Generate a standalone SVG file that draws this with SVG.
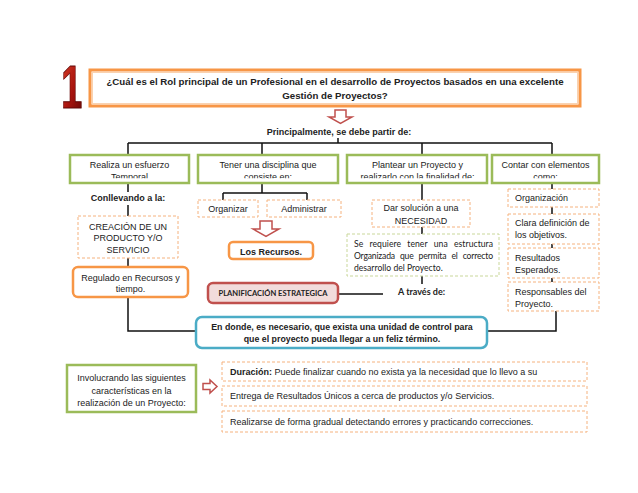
<svg xmlns="http://www.w3.org/2000/svg" width="638" height="493" viewBox="0 0 638 493">
<defs>
<linearGradient id="numg" x1="0" y1="0" x2="1" y2="1">
<stop offset="0" stop-color="#E0452C"/>
<stop offset="0.55" stop-color="#A8140E"/>
<stop offset="1" stop-color="#5E0707"/>
</linearGradient>
<clipPath id="c1"><rect x="70" y="150" width="120" height="28.3"/></clipPath>
<clipPath id="c2"><rect x="198" y="150" width="141" height="28.3"/></clipPath>
<clipPath id="c3"><rect x="347" y="150" width="141" height="28.3"/></clipPath>
<clipPath id="c4"><rect x="492" y="150" width="108" height="28.3"/></clipPath>
</defs>
<style>
.t{font-family:"Liberation Sans",Arial,sans-serif;font-size:9px;fill:#222}
.b{font-weight:bold}
.m{text-anchor:middle}
.tt{font-size:9.7px}
.ct{font-size:8.8px}
.cal{font-family:Lato,"Open Sans",sans-serif;font-size:8.6px;fill:#222}
.pl{font-size:8px;font-weight:bold}
.at{font-size:9px;font-weight:bold}
.g{fill:#fff;stroke:#9BBB59;stroke-width:2.5}
.d{fill:#fff;stroke:#F5B27E;stroke-width:1;stroke-dasharray:3 2}
.dg{fill:#fff;stroke:#C9D79A;stroke-width:1;stroke-dasharray:3 2}
.o{fill:#fff;stroke:#F79646;stroke-width:2.5}
.ln{fill:none;stroke:#111;stroke-width:1.5}
.ar{fill:#fff;stroke:#C0504D;stroke-width:1.5;stroke-linejoin:miter}
</style>
<rect width="638" height="493" fill="#fff"/>

<g id="number">
<text transform="translate(61,108) scale(0.62,1)" x="0" y="0" font-family="Liberation Sans,Arial,sans-serif" font-weight="bold" font-size="62" fill="url(#numg)" stroke="#5E0707" stroke-width="0.8">1</text>
</g>

<g id="title">
<rect x="90" y="70" width="490" height="36" fill="#fff" stroke="#F79646" stroke-width="3"/>
<rect x="92.5" y="72.5" width="485" height="31" fill="none" stroke="#FAD2B0" stroke-width="1"/>
<text class="t b m tt" x="335" y="85">¿Cuál es el Rol principal de un Profesional en el desarrollo de Proyectos basados en una excelente</text>
<text class="t b m tt" x="335" y="99">Gestión de Proyectos?</text>
</g>

<g id="connectors">
<path class="ar" d="M335 110 H346 V117 H352 L340.5 123.5 L329 117 H335 Z"/>
<path class="ln" d="M338 138 V143 M128 143 H552 M128 143 V155 M262 143 V155 M422 143 V155 M552 143 V155"/>
<path class="ln" d="M128 183 V192 M128 205 V216 M128 258 V267 M128 297 V331 H196"/>
<path class="ln" d="M262 183 V193 M223 193 H307 M223 193 V200 M307 193 V200"/>
<path class="ar" d="M260 221 H272 V229 H279 L266 236.5 L253 229 H260 Z"/>
<path class="ln" d="M422 183 V200 M422 227 V234 M422 276 V284"/>
<path class="ln" d="M552 183 V189 M552 207 V214 M552 244 V248 M552 278 V282 M556 311 V331 H487"/>
<path class="ln" d="M338 294 H383"/>
<path class="ar" d="M203 383.5 H210 V380 L217 386.5 L210 393 V389.5 H203 Z"/>
</g>

<g id="principal">
<text class="t b m" x="339" y="135">Principalmente, se debe partir de:</text>
</g>

<g id="n-esfuerzo">
<rect class="g" x="70" y="155" width="119" height="28"/>
<g clip-path="url(#c1)">
<text class="t m" x="129.5" y="167.5">Realiza un esfuerzo</text>
<text class="t m" x="129.5" y="179.5">Temporal</text>
</g>
</g>

<g id="n-disciplina">
<rect class="g" x="198" y="155" width="140" height="28"/>
<g clip-path="url(#c2)">
<text class="t m" x="268" y="167.5">Tener una disciplina que</text>
<text class="t m" x="268" y="179.5">consiste en:</text>
</g>
</g>

<g id="n-plantear">
<rect class="g" x="347" y="155" width="140" height="28"/>
<g clip-path="url(#c3)">
<text class="t m" x="417.5" y="167.5">Plantear un Proyecto y</text>
<text class="t m" x="417.5" y="179.5">realizarlo con la finalidad de:</text>
</g>
</g>

<g id="n-contar">
<rect class="g" x="492" y="155" width="107" height="28"/>
<g clip-path="url(#c4)">
<text class="t m" x="545.5" y="167.5">Contar con elementos</text>
<text class="t m" x="545.5" y="179.5">como:</text>
</g>
</g>

<g id="n-conllevando">
<text class="t b m" x="128" y="200.5">Conllevando a la:</text>
</g>

<g id="n-creacion">
<rect class="d" x="78" y="216" width="100" height="42"/>
<text class="t m" x="128" y="229.5">CREACIÓN DE UN</text>
<text class="t m" x="128" y="241">PRODUCTO Y/O</text>
<text class="t m" x="128" y="252.5">SERVICIO</text>
</g>

<g id="n-regulado">
<rect class="o" x="73" y="267" width="115" height="30" rx="5"/>
<text class="t m" x="130.5" y="280.5">Regulado en Recursos y</text>
<text class="t m" x="130.5" y="291.5">tiempo.</text>
</g>

<g id="n-organizar">
<rect class="d" x="198" y="200" width="60" height="17"/>
<text class="t m" x="228" y="211.5">Organizar</text>
</g>

<g id="n-administrar">
<rect class="d" x="267" y="200" width="74" height="17"/>
<text class="t m" x="304" y="211.5">Administrar</text>
</g>

<g id="n-recursos">
<rect class="o" x="229" y="242" width="84" height="17" rx="4"/>
<text class="t b m" x="271" y="254.5">Los Recursos.</text>
</g>

<g id="n-planificacion">
<rect x="208" y="283" width="130" height="20" rx="5" fill="#F2DCDB" stroke="#C0504D" stroke-width="2.5"/>
<text class="cal m pl" x="273" y="296" textLength="109" lengthAdjust="spacingAndGlyphs">PLANIFICACIÓN ESTRATEGICA</text>
</g>

<g id="n-atraves">
<text class="cal at" x="398" y="295">A través de:</text>
</g>

<g id="n-necesidad">
<rect class="d" x="372" y="200" width="98" height="27"/>
<text class="t m" x="421" y="211">Dar solución a una</text>
<text class="t m" x="421" y="223.5">NECESIDAD</text>
</g>

<g id="n-estructura">
<rect class="dg" x="347" y="234" width="152" height="42"/>
<text class="cal" x="354" y="247" textLength="139" lengthAdjust="spacing" word-spacing="4">Se requiere tener una estructura</text>
<text class="cal" x="354" y="259" textLength="139" lengthAdjust="spacing" word-spacing="3">Organizada que permita el correcto</text>
<text class="cal" x="354" y="271">desarrollo del Proyecto.</text>
</g>

<g id="n-organizacion">
<rect class="d" x="508" y="189" width="91" height="18"/>
<text class="t" x="515" y="201">Organización</text>
</g>

<g id="n-clara">
<rect class="d" x="508" y="214" width="91" height="30"/>
<text class="t" x="515" y="226">Clara definición de</text>
<text class="t" x="515" y="237.5">los objetivos.</text>
</g>

<g id="n-resultados">
<rect class="d" x="508" y="248" width="91" height="30"/>
<text class="t" x="515" y="260.5">Resultados</text>
<text class="t" x="515" y="272.5">Esperados.</text>
</g>

<g id="n-responsables">
<rect class="d" x="508" y="282" width="91" height="29"/>
<text class="t" x="515" y="295">Responsables del</text>
<text class="t" x="515" y="306.5">Proyecto.</text>
</g>

<g id="n-control">
<rect x="196" y="317" width="291" height="31" rx="6" fill="#fff" stroke="#4BACC6" stroke-width="2.5"/>
<text class="t b m ct" x="342" y="330">En donde, es necesario, que exista una unidad de control para</text>
<text class="t b m ct" x="342" y="342">que el proyecto pueda llegar a un feliz término.</text>
</g>

<g id="n-involucrando">
<rect class="g" x="67" y="365" width="129" height="47"/>
<text class="t m" x="131.5" y="381">Involucrando las siguientes</text>
<text class="t m" x="131.5" y="393.5">características en la</text>
<text class="t m" x="131.5" y="406">realización de un Proyecto:</text>
</g>

<g id="n-duracion">
<rect class="d" x="222" y="362" width="365" height="19"/>
<text class="t" x="230" y="375"><tspan font-weight="bold">Duración:</tspan> Puede finalizar cuando no exista ya la necesidad que lo llevo a su</text>
</g>

<g id="n-entrega">
<rect class="d" x="222" y="386" width="365" height="20"/>
<text class="t" x="230" y="399">Entrega de Resultados Únicos a cerca de productos y/o Servicios.</text>
</g>

<g id="n-gradual">
<rect class="d" x="222" y="411" width="365" height="21"/>
<text class="t" x="230" y="425">Realizarse de forma gradual detectando errores y practicando correcciones.</text>
</g>
</svg>
